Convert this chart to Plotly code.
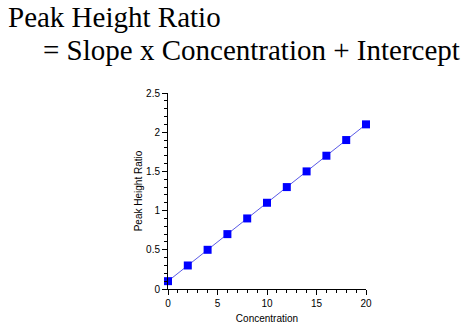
import plotly.graph_objects as go

# Calibration data
concentration = [0, 2, 4, 6, 8, 10, 12, 14, 16, 18, 20]
peak_height_ratio = [0.1, 0.3, 0.5, 0.7, 0.9, 1.1, 1.3, 1.5, 1.7, 1.9, 2.1]

title_line1 = "Peak Height Ratio"
title_line2 = "= Slope x Concentration + Intercept"

fig = go.Figure()
fig.add_trace(go.Scatter(
    x=concentration, y=peak_height_ratio, mode="lines+markers",
    line=dict(color="#5a5ae6", width=1),
    marker=dict(symbol="square", size=8, color="#0000ff"),
    cliponaxis=False, showlegend=False,
))

W, H = 474, 328
L, R, T, B = 168, 108, 93, 39

axis_font = dict(family="Liberation Sans", size=10, color="#000")
common = dict(
    showgrid=False, zeroline=False, showline=True, linecolor="#000", linewidth=1,
    ticks="outside", ticklen=5, tickcolor="#000", tickwidth=1,
    tickfont=axis_font, automargin=False,
)
fig.update_xaxes(
    range=[0, 20], tick0=0, dtick=5,
    minor=dict(ticks="outside", ticklen=3, dtick=1, tickcolor="#000", tickwidth=1),
    title=dict(text="Concentration", font=axis_font, standoff=6),
    **common,
)
fig.update_yaxes(
    range=[0, 2.5], tick0=0, dtick=0.5,
    minor=dict(ticks="outside", ticklen=3, dtick=0.1, tickcolor="#000", tickwidth=1),
    title=dict(text="Peak Height Ratio", font=axis_font, standoff=1),
    **common,
)

title_font = dict(family="Liberation Serif", size=29, color="#000")
plot_w, plot_h = W - L - R, H - T - B
fig.add_annotation(
    text=title_line1, xref="paper", yref="paper",
    x=(6 - L) / plot_w, y=(H - B + 1) / plot_h,
    xanchor="left", yanchor="top", showarrow=False, font=title_font,
)
fig.add_annotation(
    text=title_line2, xref="paper", yref="paper",
    x=(41 - L) / plot_w, y=(H - B - 32) / plot_h,
    xanchor="left", yanchor="top", showarrow=False, font=title_font,
)

fig.update_layout(
    width=W, height=H,
    margin=dict(l=L, r=R, t=T, b=B, pad=0),
    paper_bgcolor="white", plot_bgcolor="white",
)

fig.write_html("out.html")
